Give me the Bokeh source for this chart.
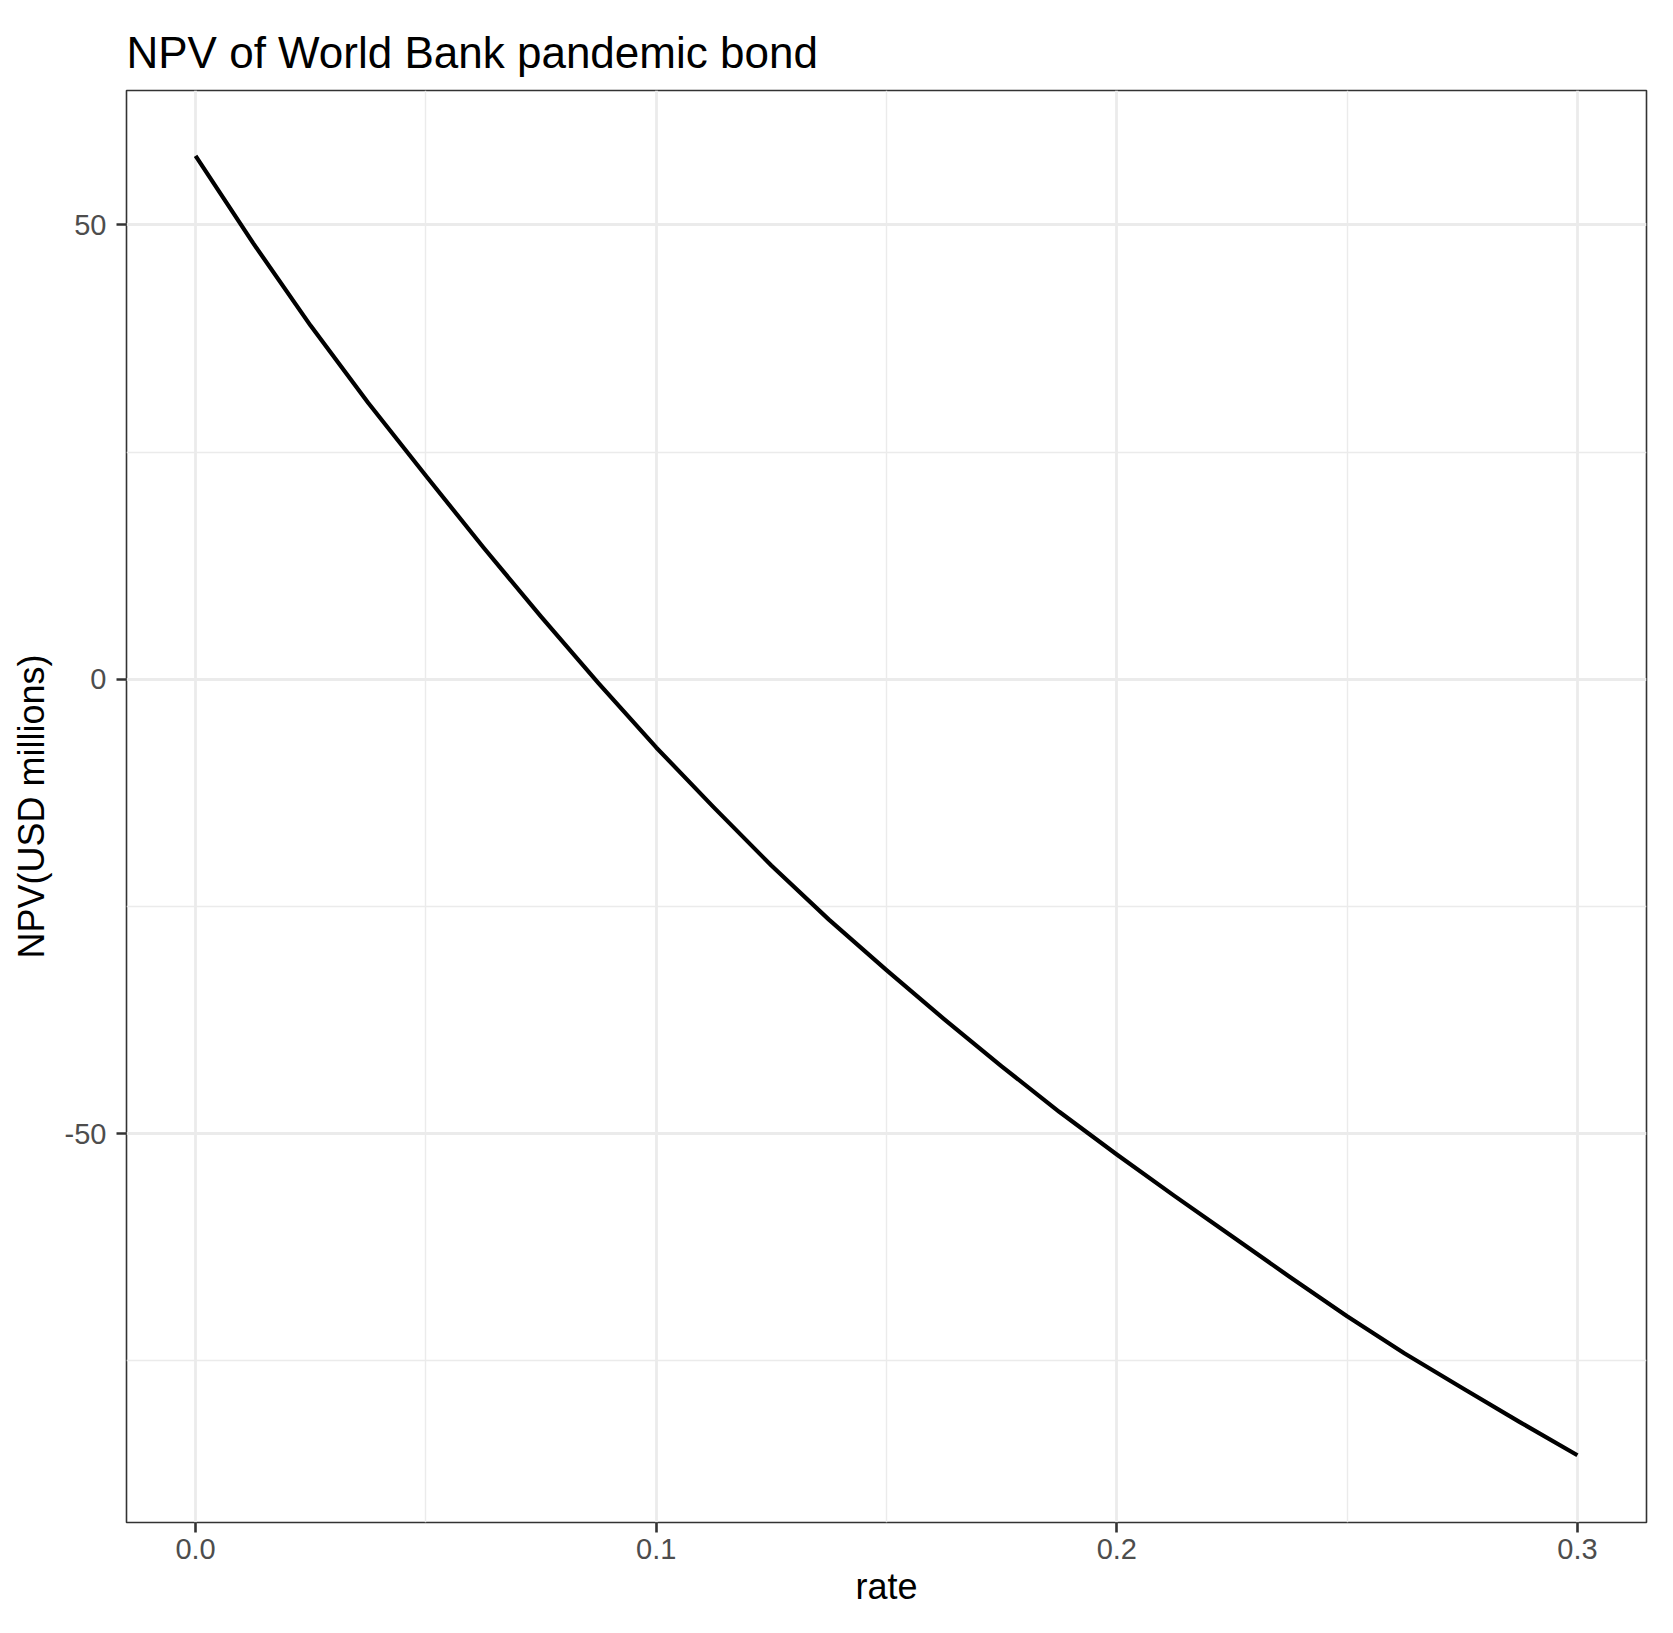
from bokeh.plotting import figure
from bokeh.models import FixedTicker, NumeralTickFormatter, Range1d, ColumnDataSource
from bokeh.embed import file_html
from bokeh.resources import INLINE

# Data
rate = [0.0, 0.0125, 0.025, 0.0375, 0.05, 0.0625, 0.075, 0.0875, 0.1, 0.1125,
        0.125, 0.1375, 0.15, 0.1625, 0.175, 0.1875, 0.2, 0.2125, 0.225, 0.2375,
        0.25, 0.2625, 0.275, 0.2875, 0.3]
npv = [57.6, 48.0, 38.9, 30.4, 22.4, 14.5, 6.9, -0.45, -7.5, -14.1,
       -20.5, -26.45, -32.0, -37.4, -42.6, -47.6, -52.3, -56.85, -61.3, -65.75,
       -70.1, -74.2, -78.0, -81.75, -85.4]

x_major = [0.0, 0.1, 0.2, 0.3]
x_minor = [0.05, 0.15, 0.25]
y_major = [-50, 0, 50]
y_minor = [-75, -25, 25]

title_text = "NPV of World Bank pandemic bond"
x_label = "rate"
y_label = "NPV(USD millions)"

FONT = "Liberation Sans"

src = ColumnDataSource(data=dict(rate=rate, npv=npv))

W, H = 1657, 1617
p = figure(width=W, height=H, output_backend="svg", toolbar_location=None,
           x_range=Range1d(-0.015, 0.315), y_range=Range1d(-92.8, 64.8),
           min_border_left=126, min_border_right=W - 1646,
           min_border_top=90, min_border_bottom=H - 1522,
           title=title_text)

p.line("rate", "npv", source=src, line_color="black", line_width=4.2,
       line_join="round", line_cap="butt")

p.background_fill_color = "white"
p.border_fill_color = "white"
p.outline_line_color = "#333333"
p.outline_line_width = 1.6

p.title.text_font = FONT
p.title.text_font_size = "44px"
p.title.text_font_style = "normal"
p.title.text_color = "black"
p.title.align = "left"
p.title.standoff = 28

xt = FixedTicker(ticks=x_major, minor_ticks=x_minor)
yt = FixedTicker(ticks=y_major, minor_ticks=y_minor)
p.xaxis.ticker = xt
p.yaxis.ticker = yt
p.xgrid.ticker = xt
p.ygrid.ticker = yt
p.xaxis.formatter = NumeralTickFormatter(format="0.0")
p.yaxis.formatter = NumeralTickFormatter(format="0")

for g in (p.xgrid, p.ygrid):
    g.grid_line_color = "#EBEBEB"
    g.grid_line_width = 2.8
    g.minor_grid_line_color = "#EBEBEB"
    g.minor_grid_line_width = 1.4

for ax in (p.xaxis, p.yaxis):
    ax.axis_line_color = None
    ax.major_tick_line_color = "#333333"
    ax.major_tick_line_width = 2.6
    ax.major_tick_in = 0
    ax.major_tick_out = 10
    ax.minor_tick_line_color = None
    ax.major_label_text_font = FONT
    ax.major_label_text_font_size = "29px"
    ax.major_label_text_color = "#4D4D4D"
    ax.axis_label_text_font = FONT
    ax.axis_label_text_font_size = "36px"
    ax.axis_label_text_font_style = "normal"
    ax.axis_label_text_color = "black"

p.xaxis.axis_label = x_label
p.yaxis.axis_label = y_label
p.xaxis.major_label_standoff = 6
p.yaxis.major_label_standoff = 10
p.xaxis.axis_label_standoff = 4
p.yaxis.axis_label_standoff = 10

open("out.html", "w").write(file_html(p, INLINE))
